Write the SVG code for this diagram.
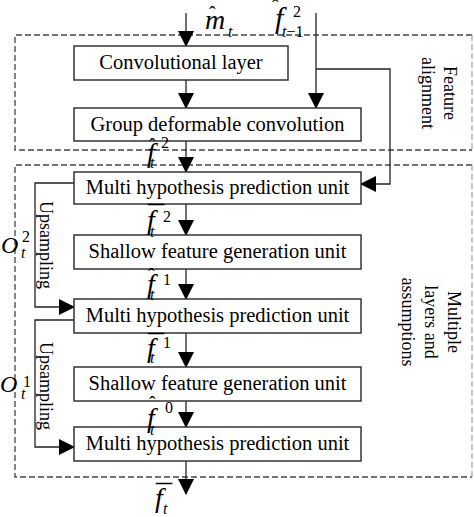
<svg xmlns="http://www.w3.org/2000/svg" width="474" height="517" viewBox="0 0 474 517">
<defs>
<marker id="ah" markerUnits="userSpaceOnUse" markerWidth="16" markerHeight="16" refX="15" refY="8" orient="auto" viewBox="0 0 16 16">
<path d="M0,0 L16,8 L0,16 Z" fill="#000"/>
</marker>
</defs>
<style>
.box{fill:#fff;stroke:#333;stroke-width:1.5}
.lbl{font-family:"Liberation Serif","Times New Roman",serif;font-size:20.5px;fill:#000;text-anchor:middle}
.dash{fill:none;stroke:#444;stroke-width:1.3;stroke-dasharray:6 3}
.dashg{fill:none;stroke:#aaa;stroke-width:1.3;stroke-dasharray:6 3}
.con{fill:none;stroke:#222;stroke-width:1.3}
.arr{marker-end:url(#ah)}
.mi{font-family:"Liberation Serif","Times New Roman",serif;font-style:italic;fill:#000}
.up{font-family:"Liberation Serif","Times New Roman",serif;fill:#000}
.rot{font-family:"Liberation Serif","Times New Roman",serif;font-size:18px;fill:#000;text-anchor:middle}
.f{font-size:28px}
.s{font-size:16px}
.hat{font-family:"Liberation Serif","Times New Roman",serif;font-size:20px;fill:#000}
.mac{font-family:"Liberation Serif","Times New Roman",serif;font-size:32px;fill:#000}
</style>

<g id="group-feature-alignment">
<polyline class="dash" points="472,35 15,35 15,150 472,150"/>
<line class="dashg" x1="472" y1="35" x2="472" y2="150"/>
<text class="rot" transform="translate(444,93) rotate(90)">Feature</text>
<text class="rot" transform="translate(422,93) rotate(90)">alignment</text>
</g>

<g id="group-multiple-layers">
<polyline class="dash" points="472,165 15,165 15,477 472,477"/>
<line class="dashg" x1="472" y1="165" x2="472" y2="477"/>
<text class="rot" transform="translate(448,322) rotate(90)">Multiple</text>
<text class="rot" transform="translate(425,322) rotate(90)">layers and</text>
<text class="rot" transform="translate(402,322) rotate(90)">assumptions</text>
</g>

<g id="connectors">
<line class="con arr" x1="186" y1="13" x2="186" y2="46"/>
<line class="con arr" x1="316" y1="13" x2="316" y2="108"/>
<polyline class="con arr" points="316,69 390,69 390,184 361,184"/>
<line class="con arr" x1="186" y1="80" x2="186" y2="108"/>
<line class="con arr" x1="186" y1="141" x2="186" y2="172"/>
<line class="con arr" x1="186" y1="204" x2="186" y2="235"/>
<line class="con arr" x1="186" y1="269" x2="186" y2="299"/>
<line class="con arr" x1="186" y1="333" x2="186" y2="367"/>
<line class="con arr" x1="186" y1="401" x2="186" y2="427"/>
<line class="con arr" x1="186" y1="461" x2="186" y2="494"/>
<polyline class="con arr" points="74,183 35,183 35,307 74,307"/>
<polyline class="con arr" points="74,320 35,320 35,447 74,447"/>
<text class="rot" transform="translate(40,245) rotate(90)">Upsampling</text>
<text class="rot" transform="translate(40,386) rotate(90)">Upsampling</text>
</g>

<g id="conv-layer">
<rect class="box" x="74" y="46" width="214" height="34"/>
<text class="lbl" x="181" y="69">Convolutional layer</text>
</g>
<g id="group-deformable-conv">
<rect class="box" x="74" y="108" width="287" height="33"/>
<text class="lbl" x="217.5" y="131">Group deformable convolution</text>
</g>
<g id="mhp-1">
<rect class="box" x="74" y="172" width="287" height="32"/>
<text class="lbl" x="217.5" y="194">Multi hypothesis prediction unit</text>
</g>
<g id="sfg-1">
<rect class="box" x="74" y="235" width="287" height="34"/>
<text class="lbl" x="217.5" y="258">Shallow feature generation unit</text>
</g>
<g id="mhp-2">
<rect class="box" x="74" y="299" width="287" height="34"/>
<text class="lbl" x="217.5" y="322">Multi hypothesis prediction unit</text>
</g>
<g id="sfg-2">
<rect class="box" x="74" y="367" width="287" height="34"/>
<text class="lbl" x="217.5" y="390">Shallow feature generation unit</text>
</g>
<g id="mhp-3">
<rect class="box" x="74" y="427" width="287" height="34"/>
<text class="lbl" x="217.5" y="450">Multi hypothesis prediction unit</text>
</g>

<g id="labels">
<!-- m hat t -->
<text class="hat" font-size="22" x="209" y="21">ˆ</text>
<text class="mi" font-size="28" x="205" y="29">m</text>
<text class="mi s" x="228" y="37">t</text>
<!-- f hat t-1 ^2 -->
<text class="hat" x="272" y="14">ˆ</text>
<text class="mi" font-size="30" x="275" y="28">f</text>
<text class="up s" x="293" y="17">2</text>
<text class="mi s" x="282" y="37">t<tspan font-style="normal">−1</tspan></text>
<!-- f hat t ^2 -->
<text class="hat" x="149" y="153">ˆ</text>
<text class="mi f" x="147" y="162">f</text>
<text class="up s" x="161" y="148">2</text>
<text class="mi s" x="150" y="168">t</text>
<!-- f bar t ^2 -->
<text class="mac" x="148" y="228">¯</text>
<text class="mi f" x="147" y="229">f</text>
<text class="up s" x="163" y="222">2</text>
<text class="mi s" x="150" y="237">t</text>
<!-- f hat t ^1 -->
<text class="hat" x="148" y="283">ˆ</text>
<text class="mi f" x="147" y="293">f</text>
<text class="up s" x="163" y="285">1</text>
<text class="mi s" x="150" y="300">t</text>
<!-- f bar t ^1 -->
<text class="mac" x="148" y="357">¯</text>
<text class="mi f" x="147" y="357">f</text>
<text class="up s" x="163" y="348">1</text>
<text class="mi s" x="150" y="363">t</text>
<!-- f hat t ^0 -->
<text class="hat" x="149" y="411">ˆ</text>
<text class="mi f" x="147" y="427">f</text>
<text class="up s" x="165" y="413">0</text>
<text class="mi s" x="150" y="435">t</text>
<!-- f bar t -->
<text class="mac" x="156" y="507">¯</text>
<text class="mi f" x="155" y="507">f</text>
<text class="mi s" x="163" y="514">t</text>
<!-- O t ^2 -->
<text class="mi" font-size="24" x="1" y="253">O</text>
<text class="up s" x="22" y="242">2</text>
<text class="mi s" x="21" y="258">t</text>
<!-- O t ^1 -->
<text class="mi" font-size="24" x="0" y="392">O</text>
<text class="up s" x="23" y="387">1</text>
<text class="mi s" x="21" y="399">t</text>
</g>
</svg>
